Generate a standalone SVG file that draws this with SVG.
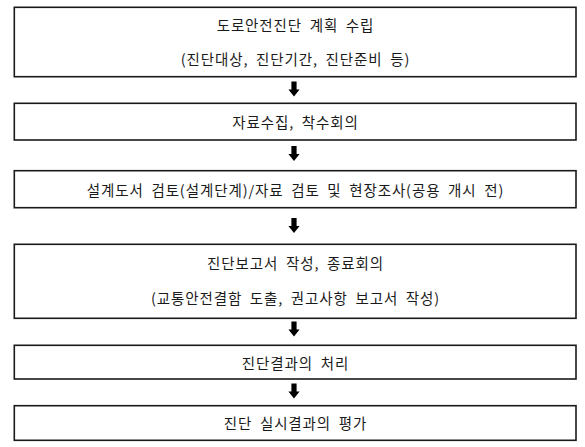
<svg xmlns="http://www.w3.org/2000/svg" xmlns:xlink="http://www.w3.org/1999/xlink" width="585" height="447" viewBox="0 0 585 447">
<style>
.box{fill:#fff;stroke:#1a1a1a;stroke-width:1.6}
.t{font-family:"Noto Sans CJK KR","Noto Sans",sans-serif;font-size:14.5px;word-spacing:3.5px;letter-spacing:0.9px;fill:#1a1a1a;text-anchor:middle;dominant-baseline:central}
.arr{fill:#000}
</style>
<defs>
<path id="arrow" class="arr" d="M-2.6,0 H2.6 V8 H5.6 L0,15 L-5.6,8 H-2.6 Z"/>
</defs>
<rect width="585" height="447" fill="#fff"/>
<g id="node1">
<rect class="box" x="14.3" y="7.3" width="561.7" height="69.4"/>
<text class="t" x="295.5" y="24">도로안전진단 계획 수립</text>
<text class="t" x="295.5" y="58">(진단대상, 진단기간, 진단준비 등)</text>
</g>
<g id="node2">
<rect class="box" x="14.3" y="103.3" width="561.7" height="36.7"/>
<text class="t" x="295.5" y="121.7">자료수집, 착수회의</text>
</g>
<g id="node3">
<rect class="box" x="14.3" y="170.7" width="561.7" height="37"/>
<text class="t" x="295.5" y="189">설계도서 검토(설계단계)/자료 검토 및 현장조사(공용 개시 전)</text>
</g>
<g id="node4">
<rect class="box" x="14.3" y="244.3" width="561.7" height="74"/>
<text class="t" x="295.5" y="262.5">진단보고서 작성, 종료회의</text>
<text class="t" x="295.5" y="297.5">(교통안전결함 도출, 권고사항 보고서 작성)</text>
</g>
<g id="node5">
<rect class="box" x="14.3" y="345.3" width="561.7" height="33.7"/>
<text class="t" x="295.5" y="362">진단결과의 처리</text>
</g>
<g id="node6">
<rect class="box" x="14.3" y="405.7" width="561.7" height="34.6"/>
<text class="t" x="295.5" y="422.8">진단 실시결과의 평가</text>
</g>
<g id="connectors">
<use xlink:href="#arrow" href="#arrow" x="294" y="81.5"/>
<use xlink:href="#arrow" href="#arrow" x="294" y="146"/>
<use xlink:href="#arrow" href="#arrow" x="294" y="218"/>
<use xlink:href="#arrow" href="#arrow" x="294" y="321.5"/>
<use xlink:href="#arrow" href="#arrow" x="294" y="383.5"/>
</g>
</svg>
